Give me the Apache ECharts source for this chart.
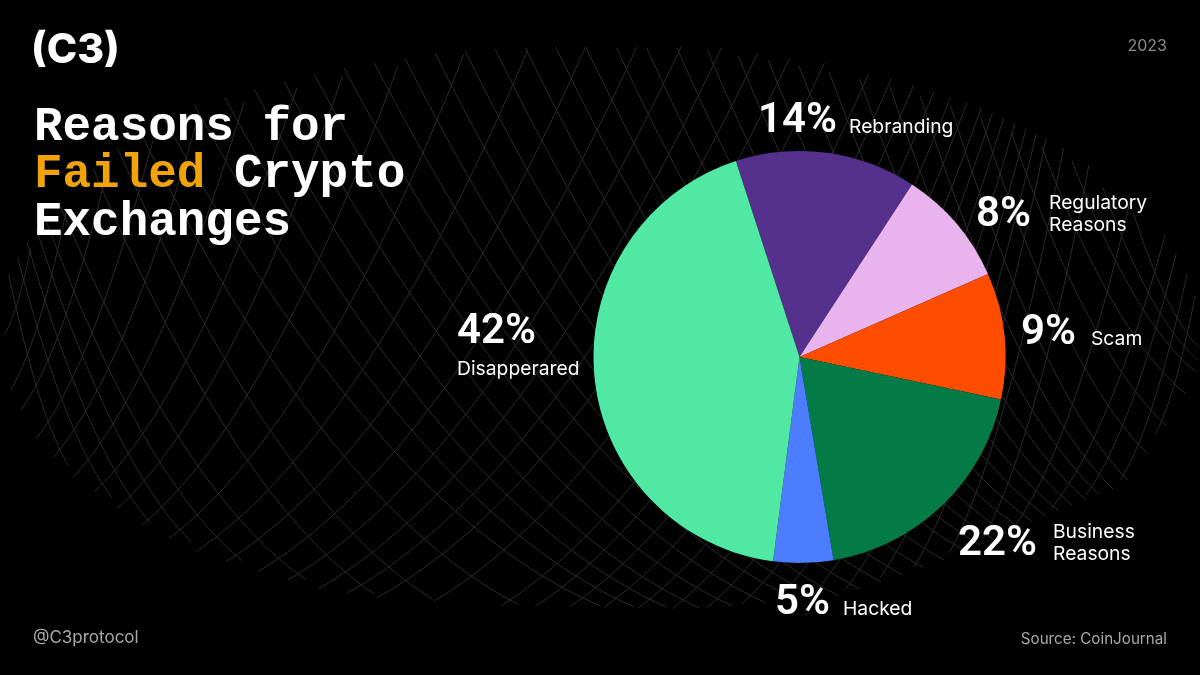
<!DOCTYPE html>
<html>
<head>
<meta charset="utf-8">
<title>Reasons for Failed Crypto Exchanges</title>
<script src="https://cdn.jsdelivr.net/npm/echarts@6/dist/echarts.min.js"></script>
<style>
  html, body { margin: 0; padding: 0; background: #000; }
  #chart { width: 1200px; height: 675px; }
</style>
</head>
<body>
<div id="chart"></div>
<script>
// clockwise from the top of the purple slice
var categories = ['Rebranding', 'Regulatory\nReasons', 'Scam', 'Business\nReasons', 'Hacked', 'Disapperared'];
// the printed percentages
var percentLabels = ['14%', '8%', '9%', '22%', '5%', '42%'];
// slice sizes as drawn in the picture (they differ a bit from the printed numbers)
var sliceValues = [14.2, 9.2, 9.9, 19.05, 4.7, 42.95];
var sliceColors = ['#55308d', '#e9b4ee', '#ff4d00', '#047a47', '#4b7dfe', '#50e8a2'];

// [percent x, percent y, name x, name y]
var labelPos = [
    [758, 121, 849, 127],
    [976, 215, 1049, 214],
    [1021, 333, 1091, 339],
    [958, 544, 1053, 543],
    [775, 603, 843, 609],
    [457, 332, 457, 369]
];

var sansFont = 'Inter, "Noto Sans", sans-serif';
var pctFont = '600 42px Roboto, Inter, sans-serif';
var titleFont = '700 47.6px "Liberation Mono", monospace';

// background mesh, only decoration: outline of the lens and where each line family lands on it
var topArc = [[0, 295], [35, 245], [115, 170], [200, 125], [335, 92], [450, 72], [560, 66], [700, 66], [815, 83], [890, 100], [973, 125], [1073, 167], [1158, 237], [1192, 290], [1200, 335]];
var bottomArc = [[0, 295], [12, 388], [39, 435], [77, 473], [148, 520], [204, 546], [267, 566], [328, 583], [387, 592], [510, 600], [700, 603], [830, 590], [935, 555], [1040, 510], [1120, 480], [1162, 425], [1193, 373], [1200, 335]];
var backTop = [10, 20, 30, 40, 50, 65, 100, 125, 150, 175, 350, 600, 800, 950, 1040, 1067, 1150];
var backBottom = [67, 110, 148, 188, 237, 300, 367, 425, 510, 590, 782, 960, 1050, 1120, 1180, 1193, 1199];
var fwdBottom = [5, 12, 23, 39, 57, 77, 99, 123, 148, 176, 204, 235, 267, 297, 328, 357, 387, 443, 510, 600, 700, 860, 935, 1000, 1040, 1097, 1140, 1180];
var fwdTop = [30, 65, 105, 150, 195, 240, 292, 337, 392, 457, 520, 577, 628, 672, 712, 748, 780, 815, 860, 920, 970, 1025, 1048, 1097, 1158, 1177, 1192, 1197];

function lookup(xs, ys, x) {
    for (var i = 1; i < xs.length; i++) {
        if (x <= xs[i]) return ys[i - 1] + (ys[i] - ys[i - 1]) * (x - xs[i - 1]) / (xs[i] - xs[i - 1]);
    }
    return ys[ys.length - 1];
}
function arcPoint(arc, x) {
    return [x, lookup(arc.map(function (p) { return p[0]; }), arc.map(function (p) { return p[1]; }), x)];
}
function bowLine(a, b) {
    // both families sag downwards
    var len = Math.sqrt(Math.pow(b[0] - a[0], 2) + Math.pow(b[1] - a[1], 2));
    var c = [(a[0] + b[0]) / 2, (a[1] + b[1]) / 2 + len * 0.22];
    var pts = [];
    for (var i = -1; i <= 41; i++) {
        var t = i / 40, s = 1 - t;
        pts.push([s * s * a[0] + 2 * s * t * c[0] + t * t * b[0], s * s * a[1] + 2 * s * t * c[1] + t * t * b[1]]);
    }
    return {
        type: 'polyline', silent: true, z: -10,
        shape: { points: pts },
        style: { stroke: '#2a2a2a', lineWidth: 1, fill: null }
    };
}
function meshLines() {
    var lines = [], x;
    // "\" lines, top edge to bottom edge
    backTop.slice(0, 10).forEach(function (t) {
        lines.push(bowLine(arcPoint(topArc, t), arcPoint(bottomArc, lookup(backTop, backBottom, t))));
    });
    for (x = 205; x <= 1150; x += 30) {
        lines.push(bowLine(arcPoint(topArc, x), arcPoint(bottomArc, lookup(backTop, backBottom, x))));
    }
    // "/" lines, bottom edge to top edge
    fwdBottom.slice(0, 19).forEach(function (b, i) {
        lines.push(bowLine(arcPoint(bottomArc, b), arcPoint(topArc, fwdTop[i])));
    });
    for (x = 544; x <= 1180; x += 34) {
        lines.push(bowLine(arcPoint(bottomArc, x), arcPoint(topArc, lookup(fwdBottom, fwdTop, x))));
    }
    return lines;
}

function txt(x, y, text, font, fill, align) {
    return {
        type: 'text', silent: true, z: 10,
        style: { x: x, y: y, text: text, font: font, fill: fill, textAlign: align || 'left', textVerticalAlign: 'middle', lineHeight: 22 }
    };
}

var graphics = meshLines();

graphics.push(txt(31, 51, '(C3)', '800 41px ' + sansFont, '#ffffff'));
graphics.push(txt(1167, 46, '2023', '400 16px ' + sansFont, '#8a8a8a', 'right'));
graphics.push(txt(33, 638, '@C3protocol', '400 17px ' + sansFont, '#a8a8a8'));
graphics.push(txt(1167, 639, 'Source: CoinJournal', '400 15.2px ' + sansFont, '#a8a8a8', 'right'));

graphics.push({
    type: 'text', silent: true, z: 10,
    style: {
        x: 34, y: 104,
        text: '{w|Reasons for}\n{o|Failed}{w| Crypto}\n{w|Exchanges}',
        font: titleFont,
        rich: {
            w: { fill: '#ffffff', font: titleFont, lineHeight: 47.5 },
            o: { fill: '#f0a30a', font: titleFont, lineHeight: 47.5 }
        }
    }
});

percentLabels.forEach(function (p, i) {
    var pos = labelPos[i];
    graphics.push(txt(pos[0], pos[1], p, pctFont, '#ffffff'));
    graphics.push(txt(pos[2], pos[3], categories[i], '400 19.3px ' + sansFont, '#ffffff'));
});

var chart = echarts.init(document.getElementById('chart'));
chart.setOption({
    backgroundColor: '#000000',
    animation: false,
    graphic: { elements: graphics },
    series: [{
        type: 'pie',
        center: [799.5, 357],
        radius: [0, 206],
        startAngle: 108,
        clockwise: true,
        silent: true,
        label: { show: false },
        labelLine: { show: false },
        data: categories.map(function (c, i) {
            return { name: c, value: sliceValues[i], itemStyle: { color: sliceColors[i] } };
        })
    }]
});
</script>
</body>
</html>
